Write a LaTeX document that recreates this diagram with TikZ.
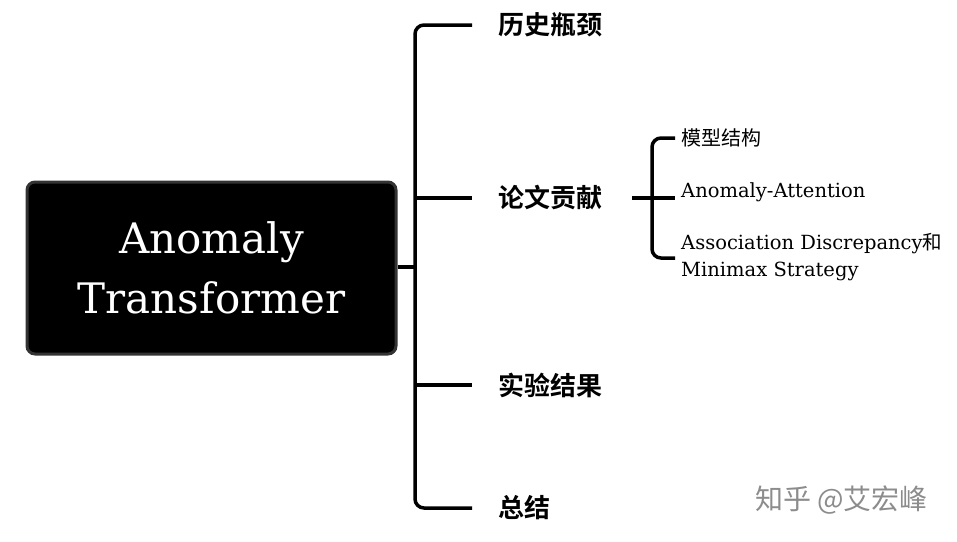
\documentclass[tikz,border=0pt]{standalone}
\usepackage{fontspec}
\setmainfont{DejaVu Serif}
\newfontfamily\cjk{Noto Sans CJK SC}
\newfontfamily\cjkb{Noto Sans CJK SC Bold}
\begin{document}
\begin{tikzpicture}[x=1pt,y=-1pt,
  conn/.style={line width=3.5pt,rounded corners=9pt},
  lvl/.style={anchor=west,inner sep=0pt,font=\cjkb\fontsize{26}{30}\selectfont},
  sub/.style={anchor=west,inner sep=0pt,align=left,font=\fontsize{19.5}{27}\selectfont}]
\useasboundingbox (0,0) rectangle (957,541);
\node[draw=black!80,line width=3pt,fill=black,rounded corners=8pt,minimum width=369pt,minimum height=172pt,
  text=white,align=center,font=\fontsize{42}{60}\selectfont] (root) at (211.5,268) {Anomaly\\Transformer};
\node[lvl] (a) at (498,25) {历史瓶颈};
\node[lvl] (b) at (498,198) {论文贡献};
\node[lvl] (c) at (498,385) {实验结果};
\node[lvl] (d) at (498,508) {总结};
\coordinate (j) at (415,267);
\coordinate (bs) at (632,198);
\draw[conn] (root.east |- j) -- (j);
\draw[conn] (472,25) -- (415,25) -- (415,508) -- (472,508);
\draw[conn] (415,198) -- (472,198);
\draw[conn] (415,385) -- (472,385);
\node[sub,font=\cjk\fontsize{20}{26}\selectfont] (s1) at (681,138) {模型结构};
\node[sub] (s2) at (681,192) {Anomaly-Attention};
\node[sub,anchor=north west] (s3) at (681,233) {Association Discrepancy{\cjk 和}\\Minimax Strategy};
\draw[conn] (bs) -- (652,198);
\draw[conn] (675,138) -- (652,138) -- (652,258) -- (675,258);
\draw[conn] (652,198) -- (675,198);
\node[anchor=west,inner sep=0pt,text=black!45,font=\cjk\fontsize{28}{30}\selectfont] (wm) at (755,500) {知乎 @艾宏峰};
\end{tikzpicture}
\end{document}
